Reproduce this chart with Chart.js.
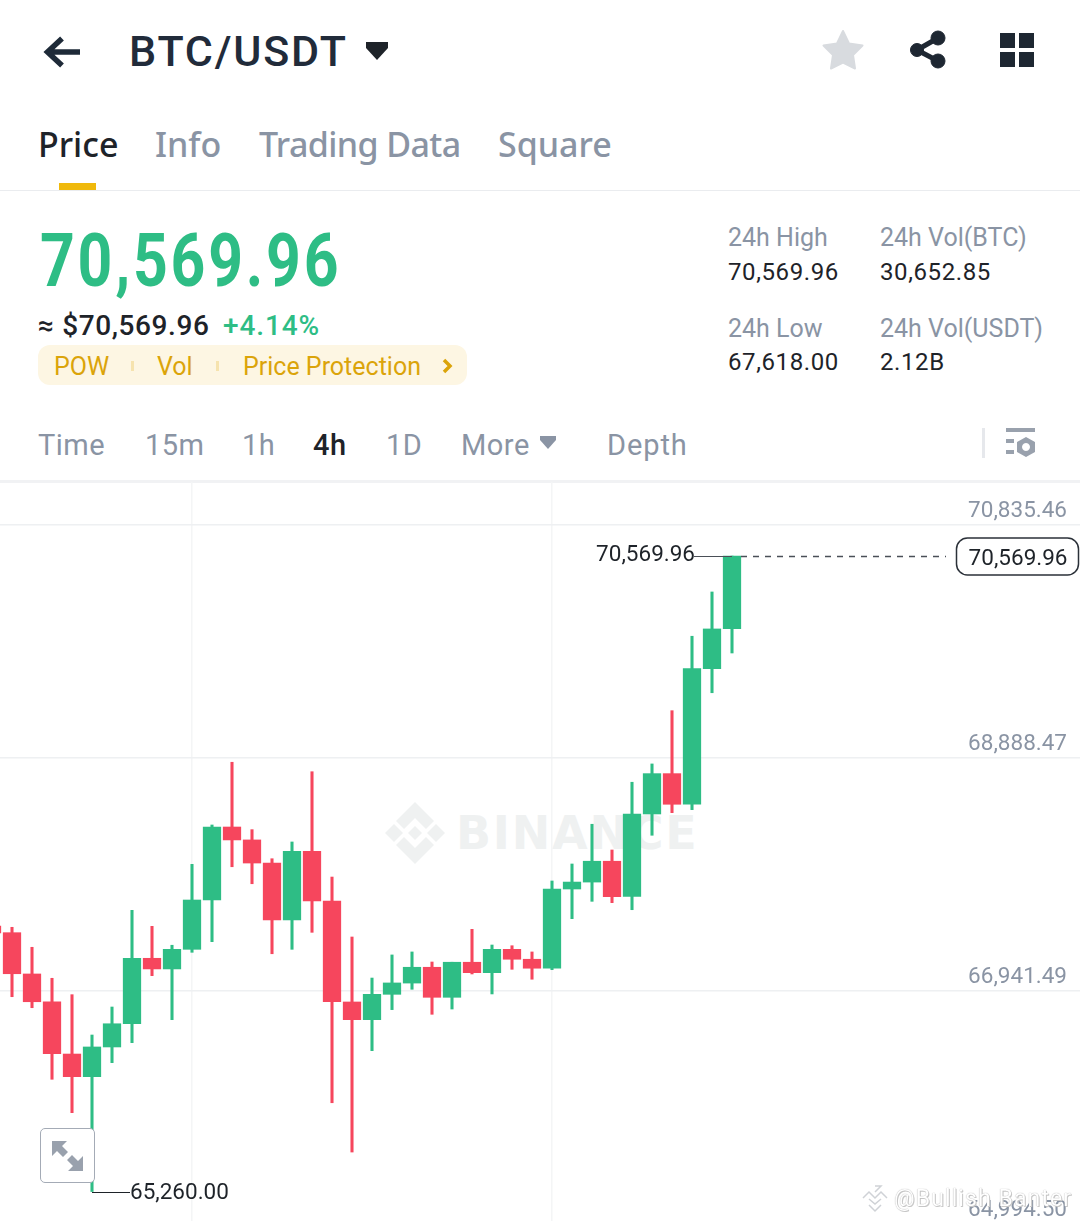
<!DOCTYPE html>
<html lang="en">
<head>
  <meta charset="UTF-8" />
  <title>BTC/USDT</title>
  <script src="https://cdn.jsdelivr.net/npm/chart.js"></script>
  <style>
    html, body {
      margin: 0;
      padding: 0;
      background: #fff;
      width: 1080px;
      height: 1221px;
      overflow: hidden;
      font-family: Roboto, sans-serif;
    }

    .t {
      position: absolute;
      white-space: nowrap;
      line-height: 1;
    }

    .tab { font-family: 'Noto Sans', sans-serif; font-size: 34px; top: 127px; color: #8a94a4; font-weight: 500; }
    .tf { font-size: 29px; top: 431px; color: #8a94a4; letter-spacing: 0.5px; }
    .lbl { font-size: 25px; color: #8a94a4; }
    .val { font-size: 24px; color: #1e2329; letter-spacing: 0.6px; }
    .badge { font-size: 25px; top: 354px; color: #dba40a; }

    svg { position: absolute; overflow: visible; }

    canvas {
      position: absolute;
      left: 0;
      top: 482px;
    }
  </style>
</head>
<body>
  <!-- header -->
  <svg style="left:0;top:0" width="1" height="1">
    <path d="M80 52H49M62 38.500L47.500 52L62 65.500" fill="none" stroke="#1e2a38" stroke-width="5.500" />
    <path d="M366 42H388V48L377 60L366 48Z" fill="#1e2329" />
    <path d="M843 31l6 12.500 13.500 2-9.500 9.500 2 13.500-12-6-12 6 2-13.500-9.500-9.500 13.500-2z" fill="#d8dbdf" stroke="#d8dbdf" stroke-width="2" stroke-linejoin="round" />
    <g fill="#1e2732" stroke="#1e2732">
      <circle cx="917" cy="50" r="6.500" /><circle cx="938" cy="38" r="7" /><circle cx="938" cy="61" r="7" />
      <path d="M917 50L938 38M917 50L938 61" stroke-width="5" />
    </g>
    <g fill="#1e2732">
      <rect x="1000" y="33" width="15" height="15" /><rect x="1019" y="33" width="15" height="15" />
      <rect x="1000" y="52" width="15" height="15" /><rect x="1019" y="52" width="15" height="15" />
    </g>
  </svg>
  <div class="t" style="left:129px;top:30px;font-size:43px;font-weight:500;color:#212b3a;letter-spacing:1.8px">BTC/USDT</div>

  <div class="t tab" style="left:38px;color:#1e2329">Price</div>
  <div class="t tab" style="left:155px">Info</div>
  <div class="t tab" style="left:259px;letter-spacing:-0.6px">Trading Data</div>
  <div class="t tab" style="left:498px">Square</div>
  <div style="position:absolute;left:59px;top:183px;width:37px;height:7px;background:#f0b90b"></div>
  <div style="position:absolute;left:0;top:190px;width:1080px;height:1px;background:#eaecef"></div>

  <!-- price block -->
  <div class="t" style="left:40px;top:224px;font-size:74px;font-weight:700;color:#2ebd85;transform:scaleX(0.82);transform-origin:left top;letter-spacing:3.4px">70,569.96</div>
  <div class="t" style="left:38px;top:312px;font-size:28px;font-weight:500;color:#1e2329;letter-spacing:0.6px">≈ $70,569.96</div>
  <div class="t" style="left:223px;top:312px;font-size:28px;font-weight:500;color:#2ebd85;letter-spacing:0.9px">+4.14%</div>

  <div style="position:absolute;left:38px;top:345px;width:429px;height:40px;border-radius:12px;background:#fdf6e3"></div>
  <div class="t badge" style="left:54px">POW</div>
  <div style="position:absolute;left:131px;top:361px;width:3px;height:10px;background:#f6e3ae"></div>
  <div class="t badge" style="left:157px">Vol</div>
  <div style="position:absolute;left:216px;top:361px;width:3px;height:10px;background:#f6e3ae"></div>
  <div class="t badge" style="left:243px">Price Protection</div>
  <svg style="left:0;top:0" width="1" height="1">
    <path d="M444 360L450 366L444 372" fill="none" stroke="#dba40a" stroke-width="3.500" />
  </svg>

  <!-- 24h stats -->
  <div class="t lbl" style="left:728px;top:225px">24h High</div>
  <div class="t val" style="left:728px;top:260px">70,569.96</div>
  <div class="t lbl" style="left:880px;top:225px">24h Vol(BTC)</div>
  <div class="t val" style="left:880px;top:260px">30,652.85</div>
  <div class="t lbl" style="left:728px;top:316px">24h Low</div>
  <div class="t val" style="left:728px;top:350px">67,618.00</div>
  <div class="t lbl" style="left:880px;top:316px">24h Vol(USDT)</div>
  <div class="t val" style="left:880px;top:350px">2.12B</div>

  <!-- timeframes -->
  <div class="t tf" style="left:38px">Time</div>
  <div class="t tf" style="left:145px">15m</div>
  <div class="t tf" style="left:242px">1h</div>
  <div class="t tf" style="left:313px;color:#1e2329;font-weight:500">4h</div>
  <div class="t tf" style="left:386px">1D</div>
  <div class="t tf" style="left:461px">More</div>
  <div class="t tf" style="left:607px;letter-spacing:0.9px">Depth</div>
  <svg style="left:0;top:0" width="1" height="1">
    <path d="M540 436H556V440L548 449L540 440Z" fill="#8a94a4" />
    <rect x="982" y="428" width="3" height="30" fill="#e6e8ec" />
    <g fill="#99a1ad">
      <rect x="1006" y="428" width="29" height="4" />
      <rect x="1006" y="439" width="8" height="4" />
      <rect x="1006" y="450" width="8" height="4" />
      <path d="M1026 437l9 5v10l-9 5-9-5v-10zM1026 443a4 4 0 1 0 0.010 0z" fill-rule="evenodd" />
    </g>
  </svg>
  <div style="position:absolute;left:0;top:480px;width:1080px;height:3px;background:#f1f2f4"></div>

  <!-- watermark sits behind the canvas -->
  <svg style="left:0;top:0" width="1" height="1">
    <g fill="#eff1f1">
      <path d="M415 802l19 19-8 8-11-11-11 11-8-8z" />
      <path d="M415 864l19-19-8-8-11 11-11-11-8 8z" />
      <path d="M385 833l9-9 9 9-9 9z" /><path d="M427 833l9-9 9 9-9 9z" /><path d="M408 833l7-7 7 7-7 7z" />
    </g>
  </svg>
  <div class="t" style="left:456px;top:810px;font-family:'DejaVu Sans',sans-serif;font-size:46px;font-weight:700;color:#eff1f1;letter-spacing:1.8px">BINANCE</div>

  <canvas id="klineChart" width="1080" height="739"></canvas>

  <!-- expand button -->
  <div style="position:absolute;left:40px;top:1128px;width:53px;height:53px;border:1.500px solid #a4abb6;border-radius:5px;background:#fff"></div>
  <svg style="left:0;top:0" width="1" height="1">
    <g fill="#99a1ad">
      <path d="M52 1141H67L62 1146L68 1152L63 1157L57 1151L52 1156Z" />
      <path d="M83 1171H68L73 1166L67 1160L72 1155L78 1161L83 1156Z" />
    </g>
  </svg>

  <!-- uploader tag -->
  <svg style="left:0;top:0" width="1" height="1">
    <g fill="none" stroke="#cfd2d6" stroke-width="1.500">
      <path d="M863 1198l6-6 6 6 6-6 6 6M869 1199l6 5 6-5M869 1205l6 6 6-6M875 1192l6-6-6-0" />
    </g>
  </svg>
  <div class="t" style="left:894px;top:1187px;font-size:23px;color:#fff;text-shadow:0 0 1px #999,1px 1px 0 #ccc;letter-spacing:1.1px">@Bullish Banter</div>

  <script>
    const candleIndex = [0, 1, 2, 3, 4, 5, 6, 7, 8, 9, 10, 11, 12, 13, 14, 15, 16, 17, 18, 19, 20, 21, 22, 23, 24, 25, 26, 27, 28, 29, 30, 31, 32, 33, 34, 35, 36, 37];
    const opens = [67479, 67423, 67078, 66846, 66409, 66220, 66468, 66662, 67209, 67120, 67284, 67697, 68306, 68198, 68005, 67529, 68103, 67688, 66844, 66696, 66908, 67002, 67134, 66883, 67176, 67089, 67284, 67201, 67126, 67788, 67846, 68020, 67727, 68415, 68752, 68496, 69629, 69963];
    const highs = [67479, 67468, 67301, 67042, 66905, 66568, 66802, 67610, 67476, 67318, 67994, 68323, 68847, 68284, 68041, 68181, 68768, 67888, 67387, 67044, 67237, 67262, 67178, 67176, 67451, 67320, 67314, 67262, 67855, 67997, 68329, 68114, 68680, 68833, 69278, 69900, 70270, 70569.96];
    const lows = [67420, 66888, 66796, 66198, 65919, 65260, 66337, 66504, 67064, 66696, 67259, 67348, 67974, 67832, 67247, 67284, 67426, 66002, 65590, 66437, 66780, 66950, 66741, 66785, 67078, 66911, 67117, 67034, 67114, 67540, 67685, 67674, 67615, 68237, 68426, 68451, 69428, 69760];
    const closes = [67420, 67080, 66846, 66412, 66220, 66468, 66662, 67209, 67120, 67284, 67696, 68306, 68198, 68005, 67529, 68103, 67688, 66846, 66696, 66908, 67003, 67134, 66883, 67176, 67089, 67284, 67201, 67126, 67788, 67846, 68020, 67724, 68415, 68752, 68496, 69629, 69961, 70569.96];

    const priceTicks = [70835.46, 68888.47, 66941.49, 64994.50];
    const timeGridTicks = [10, 28];
    const lastPrice = 70569.96;
    const lowPrice = 65260.00;
    const highIndex = 37;
    const lowIndex = 5;

    const UP = '#2ebd85';
    const DOWN = '#f6465d';
    const colors = closes.map((c, i) => c >= opens[i] ? UP : DOWN);

    const fmt = v => v.toLocaleString('en-US', { minimumFractionDigits: 2, maximumFractionDigits: 2 });

    // --- last price line, high/low markers
    const markers = {
      id: 'markers',
      afterDatasetsDraw(chart) {
        const { ctx, scales: { x, y } } = chart;
        const py = Math.round(y.getPixelForValue(lastPrice)) + 0.5;
        const hx = x.getPixelForValue(highIndex);
        const lx = x.getPixelForValue(lowIndex);
        const ly = Math.round(y.getPixelForValue(lowPrice)) + 0.5;
        ctx.save();
        ctx.font = '22.5px Roboto';
        ctx.textBaseline = 'middle';

        ctx.strokeStyle = '#4a4f57';
        ctx.lineWidth = 1.5;
        ctx.setLineDash([6, 6]);
        ctx.beginPath();
        ctx.moveTo(hx + 9, py);
        ctx.lineTo(946, py);
        ctx.stroke();
        ctx.setLineDash([]);

        // high
        ctx.lineWidth = 1.2;
        ctx.beginPath();
        ctx.moveTo(hx - 38, py);
        ctx.lineTo(hx, py);
        ctx.stroke();
        ctx.fillStyle = '#1e2329';
        ctx.textAlign = 'right';
        ctx.fillText(fmt(lastPrice), hx - 37, py - 1);

        // low
        ctx.strokeStyle = '#1e2329';
        ctx.beginPath();
        ctx.moveTo(lx, ly);
        ctx.lineTo(lx + 38, ly);
        ctx.stroke();
        ctx.textAlign = 'left';
        ctx.fillText(fmt(lowPrice), lx + 38, ly + 1);

        // price box
        ctx.fillStyle = '#fff';
        ctx.strokeStyle = '#2b3139';
        ctx.lineWidth = 1.5;
        ctx.beginPath();
        ctx.roundRect(956.5, py - 18.5, 122, 37, 11);
        ctx.fill();
        ctx.stroke();
        ctx.fillStyle = '#1e2329';
        ctx.textAlign = 'right';
        ctx.fillText(fmt(lastPrice), 1067.5, py + 3);
        ctx.restore();
      }
    };

    new Chart(document.getElementById('klineChart'), {
      type: 'bar',
      data: {
        datasets: [
          {
            label: 'Wick',
            data: candleIndex.map(i => ({ x: i, y: [lows[i], highs[i]] })),
            backgroundColor: colors,
            barThickness: 2.4,
            grouped: false,
            order: 2
          },
          {
            label: 'Body',
            data: candleIndex.map(i => ({ x: i, y: [opens[i], closes[i]] })),
            backgroundColor: colors,
            barThickness: 17.6,
            grouped: false,
            order: 1
          }
        ]
      },
      options: {
        responsive: false,
        animation: false,
        layout: { padding: 0 },
        plugins: {
          legend: { display: false },
          tooltip: { enabled: false }
        },
        scales: {
          x: {
            type: 'linear',
            offset: false,
            min: 0.4,
            max: 54.4,
            afterBuildTicks: axis => { axis.ticks = timeGridTicks.map(value => ({ value })); },
            afterFit: axis => { axis.height = 0; axis.paddingLeft = 0; axis.paddingRight = 0; },
            grid: { offset: false, color: '#f4f5f6', lineWidth: 1.5, drawTicks: false },
            border: { display: false },
            ticks: { display: false }
          },
          y: {
            position: 'right',
            min: 65013.8,
            max: 71188.9,
            afterBuildTicks: axis => { axis.ticks = priceTicks.map(value => ({ value })); },
            afterFit: axis => { axis.width = 0; axis.paddingTop = 0; axis.paddingBottom = 0; },
            grid: { color: '#eef0f2', lineWidth: 1.5, drawTicks: false },
            border: { display: false },
            ticks: {
              mirror: true,
              padding: -13,
              labelOffset: -13,
              color: '#8a94a4',
              font: { family: 'Roboto', size: 22.5 },
              callback: v => fmt(v)
            }
          }
        }
      },
      plugins: [markers]
    });
  </script>
</body>
</html>
